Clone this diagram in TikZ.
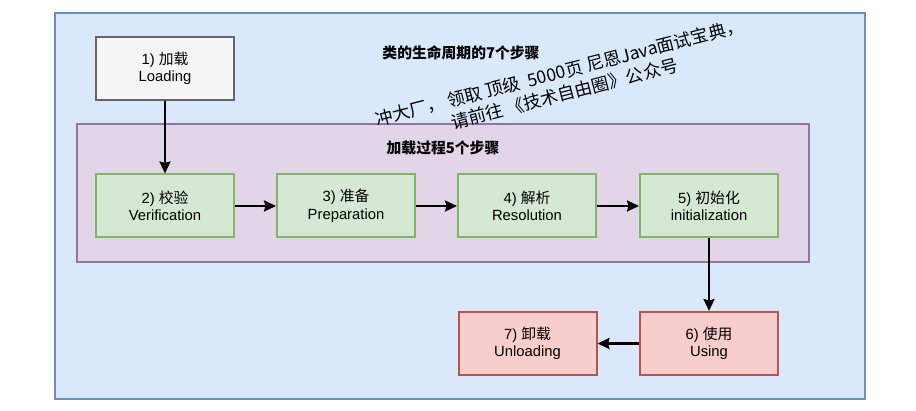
\documentclass[tikz,border=0pt]{standalone}
\usepackage{fontspec}
\setmainfont{Liberation Sans}
\newfontfamily\cjk{Noto Sans CJK SC}
\usetikzlibrary{arrows.meta}
\definecolor{bluefill}{HTML}{DAE8FC}\definecolor{bluedraw}{HTML}{6C8EBF}
\definecolor{purfill}{HTML}{E1D5E7}\definecolor{purdraw}{HTML}{9673A6}
\definecolor{grayfill}{HTML}{F5F5F5}\definecolor{graydraw}{HTML}{666666}
\definecolor{greenfill}{HTML}{D5E8D4}\definecolor{greendraw}{HTML}{82B366}
\definecolor{redfill}{HTML}{F8CECC}\definecolor{reddraw}{HTML}{B85450}
\tikzset{
  box/.style={draw, line width=2pt, minimum width=138pt, minimum height=63pt, inner sep=0pt, align=center, font=\fontsize{14.8}{17.5}\selectfont},
  graybox/.style={box, fill=grayfill, draw=graydraw},
  greenbox/.style={box, fill=greenfill, draw=greendraw},
  redbox/.style={box, fill=redfill, draw=reddraw},
  arr/.style={line width=2.2pt, -{Stealth[length=12pt,width=11pt,inset=1.5pt]}},
  ttl/.style={font=\fontsize{14.8}{17}\selectfont\bfseries}
}
\begin{document}
\begin{tikzpicture}[x=1pt,y=1pt]
\useasboundingbox (0,0) rectangle (916,-411);
\fill[white] (0,0) rectangle (916,-411);
\draw[line width=2pt, draw=bluedraw, fill=bluefill] (55,-13) rectangle (865,-399);
\draw[line width=2pt, draw=purdraw, fill=purfill] (77,-124) rectangle (809,-262);
\node[ttl] (title) at (461,-53) {\cjk{类的生命周期的7个步骤}};
\node[ttl] (sub) at (443,-148) {\cjk{加载过程5个步骤}};
\node[graybox] (b1) at (165,-68.5) {1) \cjk{加载}\\Loading};
\node[greenbox] (b2) at (165,-206) {2) \cjk{校验}\\Verification};
\node[greenbox] (b3) at (346,-206) {3) \cjk{准备}\\Preparation};
\node[greenbox] (b4) at (527,-206) {4) \cjk{解析}\\Resolution};
\node[greenbox] (b5) at (709,-206) {5) \cjk{初始化}\\initialization};
\node[redbox] (b6) at (709,-343.5) {6) \cjk{使用}\\Using};
\node[redbox] (b7) at (527.5,-343.5) {7) \cjk{卸载}\\Unloading};
\draw[arr] (b1) -- (b2);
\draw[arr] (b2) -- (b3);
\draw[arr] (b3) -- (b4);
\draw[arr] (b4) -- (b5);
\draw[arr] (b5) -- (b6);
\draw[arr] (b6) -- (b7);
\node[rotate=14.5, align=center, inner sep=0pt, font=\fontsize{17.6}{22}\selectfont\cjk] (wm) at (562,-83) {冲大厂，\ 领取 顶级\ \ 5000页 尼恩Java面试宝典，\\请前往 《技术自由圈》公众号};
\end{tikzpicture}
\end{document}
